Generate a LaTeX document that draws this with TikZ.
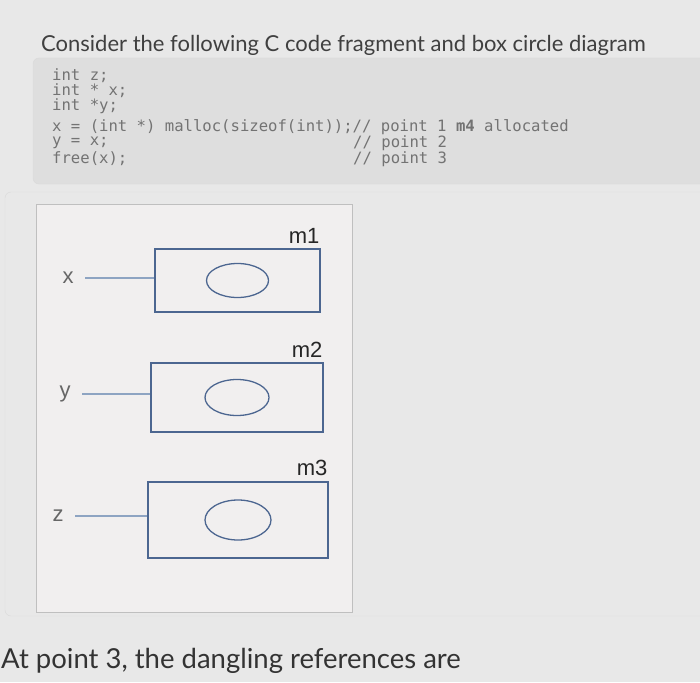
\documentclass[tikz,border=0pt]{standalone}
\usepackage{fontspec}
\setmainfont{Lato}
\newfontfamily\codefont{DejaVu Sans Mono}
\newfontfamily\labelfont{Liberation Sans}
\usetikzlibrary{shapes.geometric}
\definecolor{pagegray}{HTML}{E8E8E8}
\definecolor{codegray}{HTML}{DEDEDE}
\definecolor{imggray}{HTML}{F1EFEF}
\definecolor{boxblue}{HTML}{4C6690}
\definecolor{linkblue}{HTML}{8EA4C2}
\begin{document}
\begin{tikzpicture}[x=1pt, y=-1pt,
  codeline/.style={anchor=west, inner sep=0pt, text=black!55, font=\codefont\fontsize{15.6}{16}\selectfont},
  varname/.style={text=black!60, font=\labelfont\fontsize{22}{24}\selectfont},
  memname/.style={text=black!85, font=\labelfont\fontsize{22}{24}\selectfont, anchor=south east, inner sep=1pt},
  membox/.style={draw=boxblue, line width=1.3pt},
  cell/.style={ellipse, draw=boxblue, line width=1.3pt, inner sep=0pt}]
\useasboundingbox (0,0) rectangle (700,682);
\fill[pagegray] (0,0) rectangle (700,682);
% question text
\node[anchor=west, inner sep=0pt, text=black!75, font=\fontsize{22}{24}\selectfont] (title) at (41,45) {Consider the following C code fragment and box circle diagram};
% code panel
\draw[fill=codegray, draw=black!15, rounded corners=6pt] (33,58) rectangle (712,184);
\node[codeline] (c1) at (52,76) {int z;};
\node[codeline] (c2) at (52,91) {int * x;};
\node[codeline] (c3) at (52,106) {int *y;};
\node[codeline] (c4) at (52,127) {x = (int *) malloc(sizeof(int));// point 1 \textbf{m4} allocated};
\node[codeline] (c5) at (52,143) {y = x;};
\node[codeline] (c6) at (52,159) {free(x);};
\node[codeline] (p2) at (353,143) {// point 2};
\node[codeline] (p3) at (353,159) {// point 3};
% picture panel
\draw[fill=pagegray, draw=black!15, rounded corners=6pt] (5,192) rectangle (712,616);
\draw[fill=imggray, draw=black!25] (36,204) rectangle (352,612);
% memory boxes
\node[membox, minimum width=165pt, minimum height=63pt] (m1box) at (237.5,280.5) {};
\node[membox, minimum width=172pt, minimum height=69pt] (m2box) at (237,397.5) {};
\node[membox, minimum width=180pt, minimum height=76pt] (m3box) at (238,520) {};
\node[cell, minimum width=62pt, minimum height=34pt] (m1cell) at (m1box.center) {};
\node[cell, minimum width=64pt, minimum height=36pt] (m2cell) at (m2box.center) {};
\node[cell, minimum width=66pt, minimum height=40pt] (m3cell) at (m3box.center) {};
\node[memname] (m1) at ([yshift=4pt]m1box.north east) {m1};
\node[memname] (m2) at ([yshift=4pt]m2box.north east) {m2};
\node[memname] (m3) at ([yshift=4pt]m3box.north east) {m3};
% variables
\node[varname] (xvar) at (68,278) {x};
\node[varname] (yvar) at (65,394) {y};
\node[varname] (zvar) at (58,516) {z};
\draw[linkblue, line width=1.1pt] ([xshift=8pt]xvar.east) -- (xvar.east -| m1box.west);
\draw[linkblue, line width=1.1pt] ([xshift=8pt]yvar.east) -- (yvar.east -| m2box.west);
\draw[linkblue, line width=1.1pt] ([xshift=8pt]zvar.east) -- (zvar.east -| m3box.west);
% question text below
\node[anchor=west, inner sep=0pt, text=black!80, font=\fontsize{27.5}{30}\selectfont] (question) at (1,661) {At point 3, the dangling references are};
\end{tikzpicture}
\end{document}
